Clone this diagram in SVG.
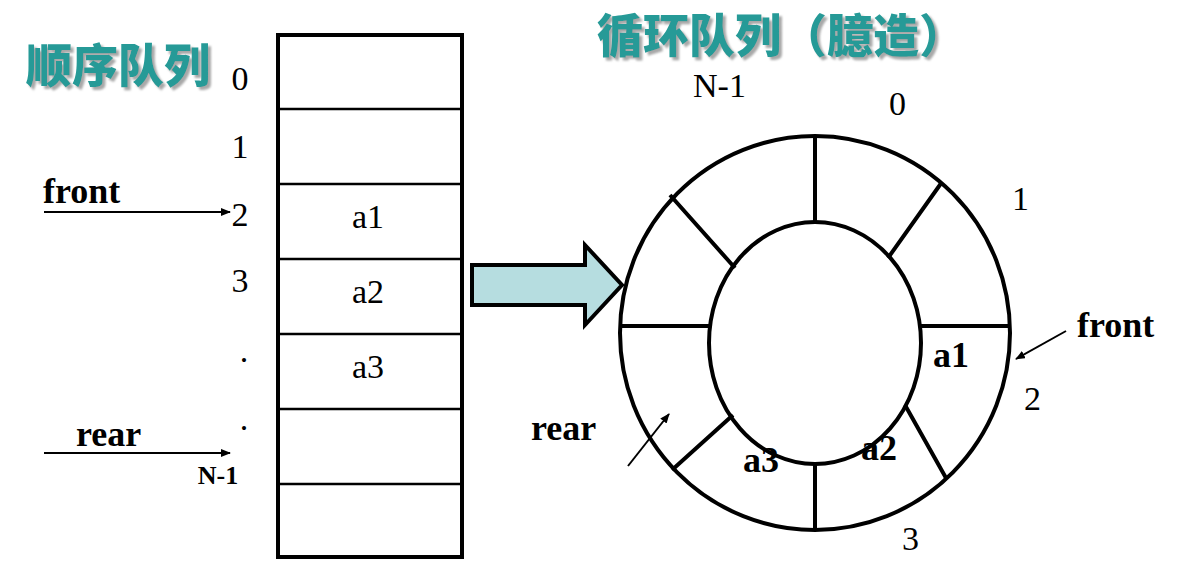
<svg xmlns="http://www.w3.org/2000/svg" width="1180" height="574" viewBox="0 0 1180 574">
<style>
.t{font-family:'Liberation Serif','Times New Roman','DejaVu Serif',serif;fill:#000}
.n{font-size:34px}
.b{font-size:36px;font-weight:bold}
.ti{font-family:'Noto Sans CJK SC',sans-serif;font-weight:900;font-size:46px;fill:#259a97;filter:url(#sh)}
.ln{stroke:#000;stroke-width:4;fill:none}
.thin{stroke:#000;stroke-width:2;fill:none}
</style>
<defs>
<filter id="sh" x="-5%" y="-20%" width="115%" height="150%"><feDropShadow dx="3" dy="3" stdDeviation="0.8" flood-color="#a8a8a8"/></filter>
<marker id="ah" markerWidth="10" markerHeight="8" refX="9" refY="4" orient="auto" markerUnits="userSpaceOnUse"><path d="M0,0L10,4L0,8z" fill="#000"/></marker></defs>
<rect width="1180" height="574" fill="#fff"/>
<g id="titles">
<text class="ti" x="26" y="82">顺序队列</text>
<text class="ti" x="597" y="52">循环队列（臆造）</text>
</g>
<g id="seq">
<rect x="278" y="35" width="184" height="522" class="ln"/>
<path d="M278 109H462M278 184H462M278 259H462M278 334H462M278 409H462M278 484H462" stroke="#000" stroke-width="2.5"/>
<text class="t n" x="368" y="228" text-anchor="middle">a1</text>
<text class="t n" x="368" y="303" text-anchor="middle">a2</text>
<text class="t n" x="368" y="378" text-anchor="middle">a3</text>
<text class="t n" x="240" y="90" text-anchor="middle">0</text>
<text class="t n" x="240" y="158" text-anchor="middle">1</text>
<text class="t n" x="240" y="226" text-anchor="middle">2</text>
<text class="t n" x="240" y="292" text-anchor="middle">3</text>
<text class="t n" x="244" y="362" text-anchor="middle">.</text>
<text class="t n" x="244" y="430" text-anchor="middle">.</text>
<text class="t" x="218" y="484" text-anchor="middle" font-size="26" font-weight="bold">N-1</text>
<text class="t b" x="43" y="203">front</text>
<text class="t b" x="76" y="446">rear</text>
</g>
<g id="connectors">
<line x1="44" y1="212" x2="230" y2="212" class="thin" marker-end="url(#ah)"/>
<line x1="44" y1="453" x2="230" y2="453" class="thin" marker-end="url(#ah)"/>
<line x1="1066" y1="331" x2="1016" y2="359" class="thin" marker-end="url(#ah)"/>
<line x1="628" y1="466" x2="669" y2="414" class="thin" marker-end="url(#ah)"/>
<polygon points="472,265 585,265 585,245 622,285 585,325 585,305 472,305" fill="#b6dde0" stroke="#000" stroke-width="4" stroke-linejoin="miter"/>
</g>
<g id="ring">
<ellipse cx="815" cy="333" rx="195" ry="197" class="ln"/>
<ellipse cx="815" cy="343" rx="106" ry="121" class="ln"/>
<path d="M815 137V222M815 464V530M620 326H709M921 326H1010M670 195L735 268M942 182L888 258M905 405L946 478M733 415L672 470" class="ln" stroke-width="3.5"/>
<text class="t b" x="933" y="367" font-size="30">a1</text>
<text class="t b" x="861" y="460" font-size="30">a2</text>
<text class="t b" x="743" y="472" font-size="30">a3</text>
<text class="t n" x="693" y="97">N-1</text>
<text class="t n" x="889" y="115">0</text>
<text class="t n" x="1012" y="210">1</text>
<text class="t n" x="1024" y="410">2</text>
<text class="t n" x="902" y="550">3</text>
<text class="t b" x="1077" y="337">front</text>
<text class="t b" x="531" y="440">rear</text>
</g>
</svg>
